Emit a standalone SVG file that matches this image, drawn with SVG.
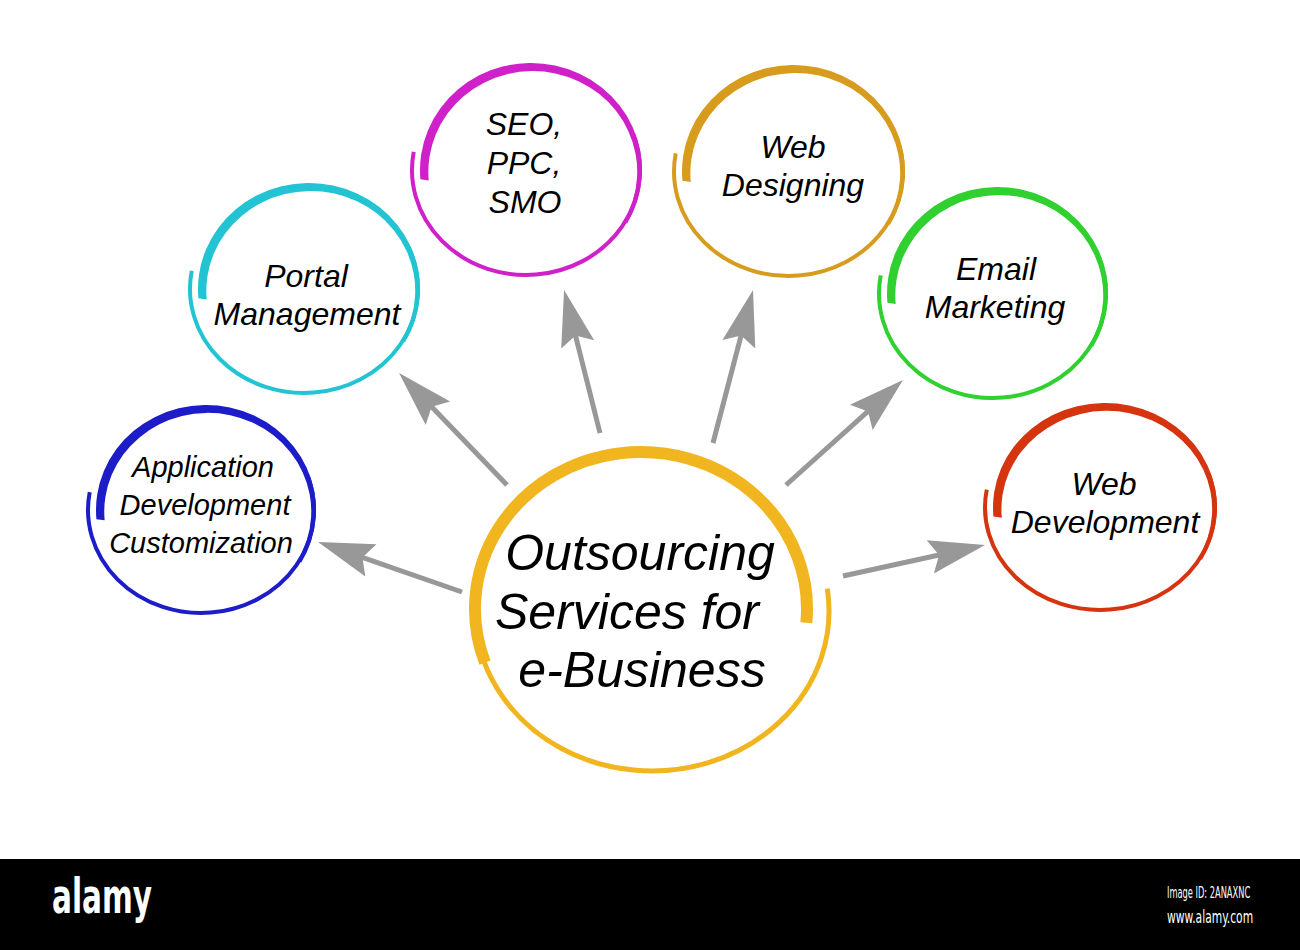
<svg xmlns="http://www.w3.org/2000/svg" xmlns:xlink="http://www.w3.org/1999/xlink" width="1300" height="950" viewBox="0 0 1300 950">
<style>
.ring{fill:none;stroke-linecap:butt}
.thin{stroke-width:4}
.lbl{font-family:"Liberation Sans",Arial,sans-serif;font-style:italic;font-size:32px;fill:#000;text-anchor:middle}
.sm{font-size:29px}
.big{font-size:50px}
.conn{stroke:#999898;stroke-width:5;fill:none;marker-end:url(#ah)}
.blue{stroke:#1c1cc8;fill:#1c1cc8}.cyan{stroke:#22c3d3;fill:#22c3d3}.mag{stroke:#cf20c9;fill:#cf20c9}.gold{stroke:#d79b1d;fill:#d79b1d}.green{stroke:#2fd02f;fill:#2fd02f}.red{stroke:#d6330f;fill:#d6330f}.yel{stroke:#f0b51f}
.cres{stroke:none}
.wm{font-family:"DejaVu Sans Condensed","DejaVu Sans",sans-serif;fill:#fff}
</style>
<defs>
<path id="thinArc" class="ring" vector-effect="non-scaling-stroke" d="M-0.9848,-0.1736 A1,1 0 1 0 0.9397,-0.3420"/>
<path id="crescent" d="M-0.9962,0.0872 A1,1 0 1 1 0.8660,0.5 L0.8309,0.4865 A0.941,0.941 0 1 0 -0.9214,0.0981 Z"/>
<path id="yThin" class="ring" vector-effect="non-scaling-stroke" d="M-0.9397,-0.3420 A1,1 0 1 0 0.9903,-0.1392"/>
<path id="yThick" class="ring" vector-effect="non-scaling-stroke" d="M0.9962,0.0872 A1,1 0 1 0 -0.9397,0.3420"/>
<marker id="ah" markerUnits="userSpaceOnUse" viewBox="-20 -20 64 40" markerWidth="64" markerHeight="40" refX="0" refY="0" orient="auto">
<path d="M40,0 L-16,-17 L-7,0 L-16,17 Z" fill="#999898"/>
</marker>
</defs>
<rect width="1300" height="950" fill="#fff"/>

<g id="connectors">
<line class="conn" x1="462" y1="592" x2="355.8" y2="555.1"/>
<line class="conn" x1="507" y1="485" x2="426.8" y2="401.8"/>
<line class="conn" x1="600" y1="433" x2="573.8" y2="328.8"/>
<line class="conn" x1="713" y1="443" x2="742.9" y2="328.7"/>
<line class="conn" x1="786" y1="485" x2="873.2" y2="406.7"/>
<line class="conn" x1="843" y1="576" x2="945.9" y2="553.5"/>
</g>

<g id="center">
<use xlink:href="#yThin" class="yel" style="stroke-width:5" transform="translate(652 611) scale(177 160)"/>
<use xlink:href="#yThick" class="yel" style="stroke-width:12" transform="translate(641 609) scale(166 157)"/>
<text class="lbl big" x="640" y="570">Outsourcing</text>
<text class="lbl big" x="627" y="629">Services for</text>
<text class="lbl big" x="642" y="687">e-Business</text>
</g>

<g id="app-dev">
<use xlink:href="#thinArc" class="blue thin" transform="translate(201 510) scale(113 103)"/>
<use xlink:href="#crescent" class="blue cres" transform="translate(206 510) scale(110 105)"/>
<text class="lbl sm" x="203" y="477">Application</text>
<text class="lbl sm" x="205" y="515">Development</text>
<text class="lbl sm" x="201" y="553">Customization</text>
</g>

<g id="portal">
<use xlink:href="#thinArc" class="cyan thin" transform="translate(304 289) scale(114 104)"/>
<use xlink:href="#crescent" class="cyan cres" transform="translate(309 289) scale(111 106)"/>
<text class="lbl" x="306" y="287">Portal</text>
<text class="lbl" x="307" y="325">Management</text>
</g>

<g id="seo">
<use xlink:href="#thinArc" class="mag thin" transform="translate(526 170) scale(114 105)"/>
<use xlink:href="#crescent" class="mag cres" transform="translate(531 170) scale(111 107)"/>
<text class="lbl" x="524" y="135">SEO,</text>
<text class="lbl" x="524" y="174">PPC,</text>
<text class="lbl" x="525" y="213">SMO</text>
</g>

<g id="web-designing">
<use xlink:href="#thinArc" class="gold thin" transform="translate(788.5 171.5) scale(114.5 104.5)"/>
<use xlink:href="#crescent" class="gold cres" transform="translate(793.5 171.5) scale(111.5 106.5)"/>
<text class="lbl" x="793" y="158">Web</text>
<text class="lbl" x="793" y="196">Designing</text>
</g>

<g id="email">
<use xlink:href="#thinArc" class="green thin" transform="translate(992.5 293.5) scale(113.5 104.5)"/>
<use xlink:href="#crescent" class="green cres" transform="translate(997.5 293.5) scale(110.5 106.5)"/>
<text class="lbl" x="996" y="280">Email</text>
<text class="lbl" x="995" y="318">Marketing</text>
</g>

<g id="web-dev">
<use xlink:href="#thinArc" class="red thin" transform="translate(1100 507.5) scale(115 102.5)"/>
<use xlink:href="#crescent" class="red cres" transform="translate(1105 507.5) scale(112 104.5)"/>
<text class="lbl" x="1104" y="495">Web</text>
<text class="lbl" x="1105" y="533">Development</text>
</g>

<g id="watermark-bar">
<rect x="0" y="859" width="1300" height="91" fill="#000"/>
<text class="wm" x="52" y="913" font-size="48" font-weight="bold" textLength="100" lengthAdjust="spacingAndGlyphs">alamy</text>
<text class="wm" transform="translate(1167 898) scale(0.66 1)" x="0" y="0" font-size="16" fill="#ddd" textLength="126" lengthAdjust="spacingAndGlyphs">Image ID: 2ANAXNC</text>
<text class="wm" transform="translate(1167 923) scale(0.7 1)" x="0" y="0" font-size="18" textLength="123" lengthAdjust="spacingAndGlyphs">www.alamy.com</text>
</g>
</svg>
